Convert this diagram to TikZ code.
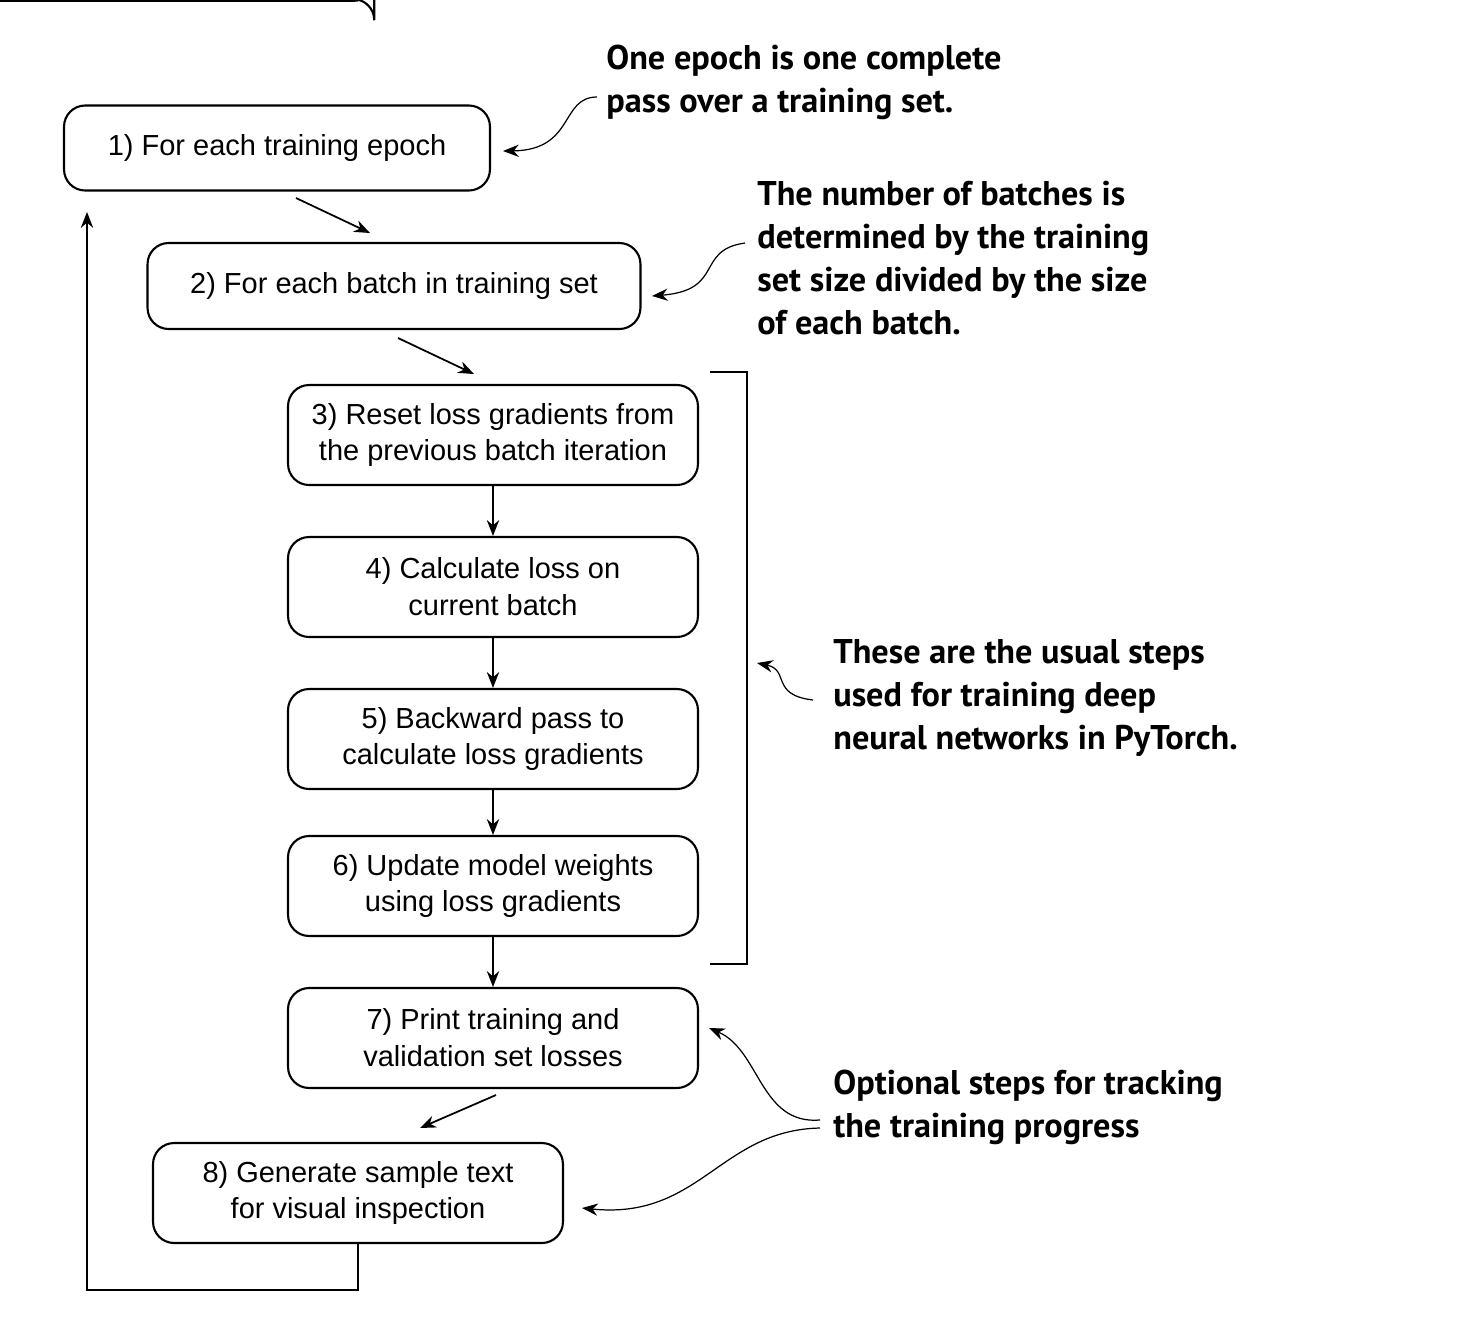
\documentclass[tikz,border=0pt]{standalone}
\usepackage{fontspec}
\setmainfont{Liberation Sans}
\newfontfamily\notefont{PT Sans}
\usetikzlibrary{arrows.meta}
\begin{document}
\begin{tikzpicture}[x=0.02cm,y=-0.02cm,
 box/.style={draw,line width=1.2pt,rounded corners=12pt,align=center,font=\fontsize{16.5}{21}\selectfont,inner sep=0},
 note/.style={anchor=west,align=left,font=\notefont\bfseries\fontsize{19.5}{24.5}\selectfont,inner sep=0},
 arr/.style={line width=1pt,-{Stealth[length=9pt,width=7pt]}},
 thin/.style={line width=0.7pt,-{Stealth[length=9pt,width=7pt]}}]
\useasboundingbox (0,0) rectangle (1482,1340);
\node[box,minimum width=426\pgflinewidth/1.2*0.02cm/0.02cm] at (0,0) {};
\node[box,minimum width=8.52cm,minimum height=1.7cm] (b1) at (277,148) {1) For each training epoch};
\node[box,minimum width=9.86cm,minimum height=1.72cm] (b2) at (394,286) {2) For each batch in training set};
\node[box,minimum width=8.2cm,minimum height=2cm] (b3) at (493,435) {3) Reset loss gradients from\\the previous batch iteration};
\node[box,minimum width=8.2cm,minimum height=2cm] (b4) at (493,587) {4) Calculate loss on\\current batch};
\node[box,minimum width=8.2cm,minimum height=2cm] (b5) at (493,739) {5) Backward pass to\\calculate loss gradients};
\node[box,minimum width=8.2cm,minimum height=2cm] (b6) at (493,886) {6) Update model weights\\using loss gradients};
\node[box,minimum width=8.2cm,minimum height=2cm] (b7) at (493,1038) {7) Print training and\\validation set losses};
\node[box,minimum width=8.2cm,minimum height=2cm] (b8) at (358,1193) {8) Generate sample text\\for visual inspection};
\coordinate (a1s) at (296,198); \coordinate (a1e) at (370,233);
\coordinate (a2s) at (398,338); \coordinate (a2e) at (474,374);
\coordinate (a7s) at (496,1095); \coordinate (a7e) at (420,1128);
\draw[arr] (a1s) -- (a1e);
\draw[arr] (a2s) -- (a2e);
\draw[arr] (a7s) -- (a7e);
\draw[arr] (b3) -- (b4); \draw[arr] (b4) -- (b5); \draw[arr] (b5) -- (b6); \draw[arr] (b6) -- (b7);
\coordinate (l1) at (358,1290); \coordinate (l2) at (87,1290); \coordinate (l3) at (87,212);
\draw[arr] (b8.south) -- (l1) -- (l2) -- (l3);
\coordinate (k1) at (710,372); \coordinate (k2) at (747,372); \coordinate (k3) at (747,964); \coordinate (k4) at (710,964);
\draw[line width=1.2pt] (k1) -- (k2) -- (k3) -- (k4);
\node[note] (n1) at (606,82) {One epoch is one complete\\pass over a training set.};
\node[note] (n2) at (757,258) {The number of batches is\\determined by the training\\set size divided by the size\\of each batch.};
\node[note] (n3) at (833,698) {These are the usual steps\\used for training deep\\neural networks in PyTorch.};
\node[note] (n4) at (833,1107) {Optional steps for tracking\\the training progress};
\coordinate (c1) at (597,97); \coordinate (e1) at (503,151);
\draw[thin] (c1) .. controls (560,97) and (575,150) .. (e1);
\coordinate (c2) at (745,243); \coordinate (e2) at (652,296);
\draw[thin] (c2) .. controls (695,250) and (725,290) .. (e2);
\coordinate (c3) at (813,700); \coordinate (e3) at (757,663);
\draw[thin] (c3) .. controls (770,695) and (790,670) .. (e3);
\coordinate (c4) at (820,1120); \coordinate (e4) at (709,1028);
\draw[thin] (c4) .. controls (760,1125) and (760,1050) .. (e4);
\coordinate (c5) at (820,1128); \coordinate (e5) at (582,1208);
\draw[thin] (c5) .. controls (720,1130) and (700,1220) .. (e5);
\end{tikzpicture}
\end{document}
